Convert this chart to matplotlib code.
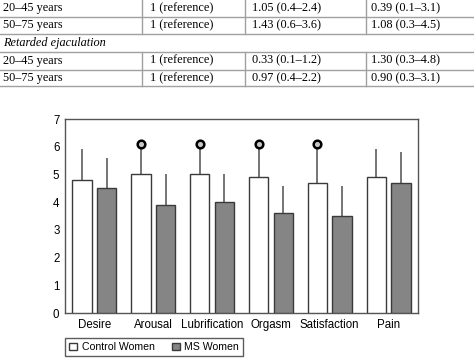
"""Sexual function scores: control women vs MS women, with table excerpt above."""

import numpy as np
import matplotlib
matplotlib.use('Agg')
import matplotlib.pyplot as plt
from matplotlib.lines import Line2D

# table excerpt (top of the figure)
table_rows = [
    ['20\u201345 years', '1 (reference)', '1.05 (0.4\u20132.4)', '0.39 (0.1\u20133.1)'],
    ['50\u201375 years', '1 (reference)', '1.43 (0.6\u20133.6)', '1.08 (0.3\u20134.5)'],
    ['Retarded ejaculation'],
    ['20\u201345 years', '1 (reference)', '0.33 (0.1\u20131.2)', '1.30 (0.3\u20134.8)'],
    ['50\u201375 years', '1 (reference)', '0.97 (0.4\u20132.2)', '0.90 (0.3\u20133.1)'],
]

# bar chart data
categories = ['Desire', 'Arousal', 'Lubrification', 'Orgasm', 'Satisfaction', 'Pain']
control_mean = [4.8, 5.0, 5.0, 4.9, 4.7, 4.9]
control_upper = [5.9, 6.0, 6.0, 6.0, 6.0, 5.9]
ms_mean = [4.5, 3.9, 4.0, 3.6, 3.5, 4.7]
ms_upper = [5.6, 5.0, 5.0, 4.6, 4.6, 5.8]
significant = [False, True, True, True, True, False]

W, H = 474, 363
fig = plt.figure(figsize=(W / 100, H / 100), dpi=100)

# ---- table ----
def fy(py):
    return 1 - py / H

def fx(px):
    return px / W

line_col = '#a0a0a0'
row_centers = [8.3, 25.0, 43.0, 60.7, 78.3]
col_x = [3, 150, 252, 371]
for row, yc in zip(table_rows, row_centers):
    if len(row) == 1:
        fig.text(fx(col_x[0]), fy(yc), row[0], family='Liberation Serif',
                 style='italic', fontsize=8.8, va='center', ha='left')
        continue
    for txt, xc in zip(row, col_x):
        fig.text(fx(xc), fy(yc), txt, family='Liberation Serif',
                 fontsize=8.8, va='center', ha='left')

for yl in [16.5, 33.5, 52.0, 69.5, 86.0]:
    fig.add_artist(Line2D([0, 1], [fy(yl), fy(yl)], color=line_col, lw=1.0))
for xl in [142, 245, 366]:
    for y0, y1 in [(0, 33.5), (52.0, 86.0)]:
        fig.add_artist(Line2D([fx(xl), fx(xl)], [fy(y0), fy(y1)],
                              color=line_col, lw=1.0))

# ---- bar chart ----
ax = fig.add_axes([65 / W, 1 - 313 / H, (418 - 65) / W, (313 - 119) / H])
x = np.arange(len(categories))
bw = 0.33
off = 0.21
edge = '#3a3a3a'

ax.bar(x - off, control_mean, bw, color='white', edgecolor=edge, lw=1.0,
       label='Control Women', zorder=3)
ax.bar(x + off, ms_mean, bw, color='#858585', edgecolor=edge, lw=1.0,
       label='MS Women', zorder=3)

err_col = '#6a6a6a'
ax.vlines(x - off, control_mean, control_upper, color=err_col, lw=1.3, zorder=2)
ax.vlines(x + off, ms_mean, ms_upper, color=err_col, lw=1.3, zorder=2)

sig_x = [xi - off for xi, s in zip(x, significant) if s]
sig_y = [u + 0.1 for u, s in zip(control_upper, significant) if s]
ax.plot(sig_x, sig_y, 'o', ms=5.5, mfc='#c8c8c8', mec='black', mew=1.8,
        zorder=4, ls='none')

ax.set_xlim(-0.5, len(categories) - 0.5)
ax.set_ylim(0, 7)
ax.set_yticks(range(8))
ax.set_xticks(x)
ax.set_xticklabels(categories)
ax.tick_params(length=0, labelsize=8.3, pad=4)
for lab in ax.get_xticklabels() + ax.get_yticklabels():
    lab.set_family('Liberation Sans')
for sp in ax.spines.values():
    sp.set_color('#555555')
    sp.set_linewidth(1.0)

leg = ax.legend(loc='upper left', bbox_to_anchor=(0, -0.128), ncol=2,
                frameon=True, fancybox=False, edgecolor='#333333',
                borderaxespad=0, handlelength=0.75, handleheight=0.75,
                handletextpad=0.45, columnspacing=1.6, borderpad=0.4,
                prop={'family': 'Liberation Sans', 'size': 7.6})
leg.get_frame().set_linewidth(1.0)

fig.savefig('out.png', dpi=100)
